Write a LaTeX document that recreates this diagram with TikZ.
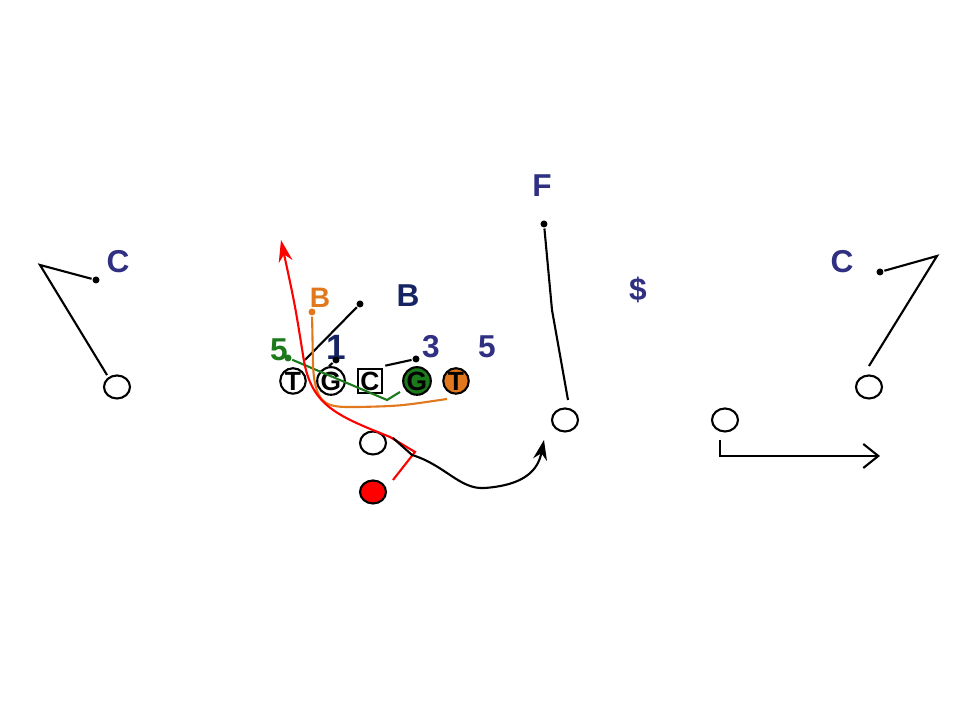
\documentclass[tikz,border=0pt]{standalone}
\usepackage{fontspec}
\setmainfont{Liberation Sans}
\usepackage{tikz}
\usetikzlibrary{shapes.geometric,arrows.meta}
\definecolor{navy}{RGB}{48,48,130}
\definecolor{deepnavy}{RGB}{22,36,100}
\definecolor{oline}{RGB}{226,120,30}
\definecolor{gline}{RGB}{28,122,28}

\begin{document}
\begin{tikzpicture}[line width=0.6pt,
    player/.style={ellipse, draw, minimum width=0.26cm, minimum height=0.23cm, inner sep=0pt},
    lineman/.style={circle, draw, minimum size=0.255cm, inner sep=0pt, font=\bfseries\fontsize{7.5}{7.5}\selectfont},
    tag/.style={font=\bfseries\fontsize{9}{9}\selectfont, text=navy},
    dot/.style={circle, fill, inner sep=0pt, minimum size=0.07cm}]
    \useasboundingbox (0,0) rectangle (9.6,7.2);

    % offense
    \node[player] (wl) at (1.17,3.33) {};
    \node[lineman] (lt) at (2.93,3.39) {T};
    \node[lineman] (lg) at (3.31,3.39) {G};
    \node[lineman, rectangle, minimum size=0.245cm] (cen) at (3.70,3.39) {C};
    \node[lineman, fill=gline] (rg) at (4.17,3.39) {G};
    \node[lineman, fill=oline] (rt) at (4.56,3.39) {T};
    \node[player] (rb) at (3.73,2.77) {};
    \node[player, fill=red] (qb) at (3.73,2.28) {};
    \node[player] (slot) at (5.65,3.00) {};
    \node[player] (wr2) at (7.25,3.00) {};
    \node[player] (wr) at (8.69,3.33) {};

    % defense
    \node[tag] (cl) at (1.18,4.58) {C};
    \node[tag, text=gline] (e5) at (2.79,3.70) {5};
    \node[tag, text=deepnavy, font=\bfseries\fontsize{10}{10}\selectfont] (t1) at (3.36,3.73) {1};
    \node[tag] (t3) at (4.31,3.73) {3};
    \node[tag] (t5) at (4.87,3.73) {5};
    \node[tag, text=oline, font=\bfseries\fontsize{8}{8}\selectfont] (bo) at (3.20,4.22) {B};
    \node[tag, text=deepnavy] (bn) at (4.08,4.24) {B};
    \node[tag] (fs) at (5.42,5.34) {F};
    \node[tag] (ss) at (6.38,4.30) {\$};
    \node[tag] (cr) at (8.42,4.58) {C};

    % blocks
    \node[dot] (dwl) at (0.96,4.40) {};
    \coordinate (kwl) at (0.40,4.55);
    \draw (wl.north west) ++(0,0.03) -- (kwl) -- (dwl);
    \node[dot] (dlt) at (3.60,4.16) {};
    \draw (3.05,3.60) -- (dlt);
    \node[dot] (dlg) at (3.36,3.60) {};
    \draw (lg.north) ++(-0.02,0) -- (dlg);
    \node[dot] (dcen) at (4.16,3.61) {};
    \draw (cen.north east) ++(0.02,0.02) -- (dcen);
    \node[dot, gline] (drg) at (2.88,3.62) {};
    \draw[gline] (drg) -- (3.87,3.20) -- (4.00,3.28);
    \node[dot, oline] (drt) at (3.12,4.08) {};
    \draw[oline] (drt) -- (3.13,3.55) .. controls (3.15,3.10) and (3.30,3.13) .. (3.60,3.13)
        .. controls (4.00,3.14) .. (4.47,3.21);
    \node[dot] (dsl) at (5.44,4.96) {};
    \draw (5.68,3.20) -- (5.52,4.10) -- (dsl);
    \node[dot] (dwr) at (8.80,4.48) {};
    \coordinate (kwr) at (9.37,4.64);
    \draw (8.69,3.54) -- (kwr) -- (dwr);

    % routes
    \draw[red, -{Stealth[length=2.2mm, width=1.4mm]}] (3.93,2.40) -- (4.15,2.68) -- (3.90,2.83)
        .. controls (3.35,3.05) and (3.10,3.15) .. (3.03,3.65)
        .. controls (2.95,4.15) .. (2.81,4.80);
    \draw[-{Stealth[length=2mm, width=1.4mm]}] (3.93,2.82) -- (4.12,2.65)
        .. controls (4.45,2.55) and (4.60,2.30) .. (4.85,2.32)
        .. controls (5.25,2.35) and (5.38,2.50) .. (5.44,2.80);
    \coordinate (flat) at (8.80,2.64);
    \draw[-{Straight Barb[length=1.5mm, width=2.4mm]}] (7.20,2.80) -- (7.20,2.64) -- (flat);
\end{tikzpicture}
\end{document}
